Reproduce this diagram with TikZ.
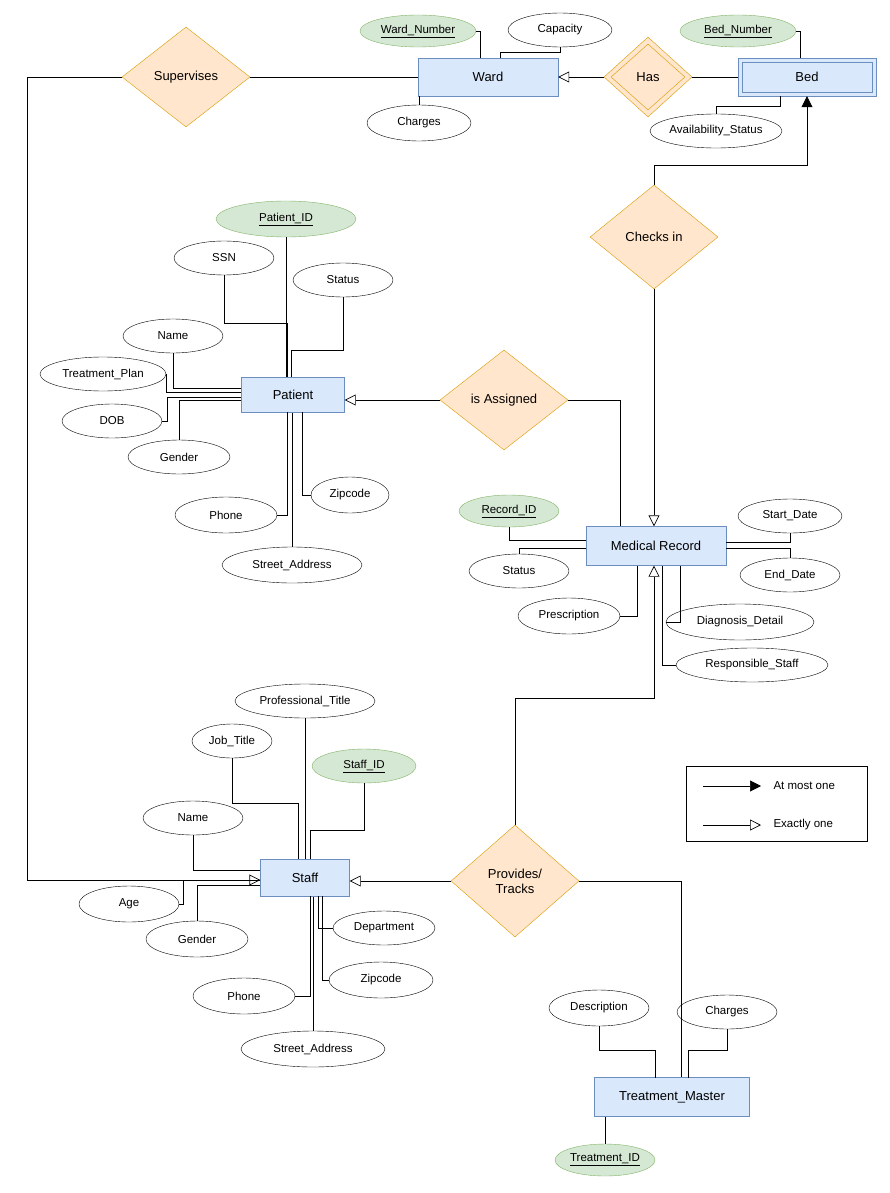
\documentclass[tikz,border=0pt]{standalone}
\usepackage{fontspec}
\setmainfont{Liberation Sans}
\usetikzlibrary{shapes.geometric,arrows.meta}
\definecolor{ebl}{HTML}{DAE8FC}\definecolor{ebd}{HTML}{6C8EBF}
\definecolor{ror}{HTML}{FFE6CC}\definecolor{rod}{HTML}{D79B00}
\definecolor{kgr}{HTML}{D5E8D4}\definecolor{kgd}{HTML}{82B366}
\begin{document}
\begin{tikzpicture}[x=1pt,y=-1pt,font=\fontsize{11.5}{13}\selectfont,
 ent/.style={draw=ebd,fill=ebl,minimum height=38,inner sep=2,font=\fontsize{13}{15}\selectfont},
 rel/.style={diamond,draw=rod,fill=ror,aspect=1.25,inner sep=0,font=\fontsize{13}{15}\selectfont,align=center},
 att/.style={ellipse,draw,fill=white,inner sep=0,minimum height=34},
 key/.style={att,draw=kgd,fill=kgr},
 ln/.style={draw,line width=0.7pt},
 ex/.style={-{Triangle[open,length=11pt,width=11pt]}},
 mo/.style={-{Triangle[length=11pt,width=11pt]}}]
\useasboundingbox (0,0) rectangle (889,1193);
% entities
\node[ent,minimum width=140] (ward) at (488,77) {Ward};
\node[ent,minimum width=138] (bed) at (807,77) {};
\draw[ebd] (742,62) rectangle (872,92);
\node[font=\fontsize{13}{15}\selectfont] at (807,77) {Bed};
\node[ent,minimum width=103,minimum height=35] (pat) at (293,395) {Patient};
\node[ent,minimum width=140,minimum height=39] (mr) at (656,546) {Medical Record};
\node[ent,minimum width=89,minimum height=37] (staff) at (305,878) {Staff};
\node[ent,minimum width=155,minimum height=39] (tm) at (672,1097) {Treatment\_Master};
% relations
\node[rel,minimum width=128,minimum height=100] (sup) at (186,77) {Supervises};
\node[rel,minimum width=88,minimum height=80] (has) at (648,77) {Has};
\node[diamond,draw=rod,minimum width=74,minimum height=66,inner sep=0] at (648,77) {};
\node[rel,minimum width=128,minimum height=104] (chk) at (654,237) {Checks in};
\node[rel,minimum width=128,minimum height=100] (asg) at (504,400) {is Assigned};
\node[rel,minimum width=128,minimum height=112] (prv) at (515,881) {Provides/\\Tracks};
% attributes
\node[key,minimum width=116,minimum height=32] (wn) at (418,31) {\underline{Ward\_Number}};
\node[att,minimum width=104] (cap) at (560,30) {Capacity};
\node[att,minimum width=104,minimum height=36] (wch) at (419,123) {Charges};
\node[key,minimum width=116,minimum height=32] (bn) at (738,31) {\underline{Bed\_Number}};
\node[att,minimum width=132] (avs) at (716,131) {Availability\_Status};
\node[key,minimum width=140,minimum height=36] (pid) at (286,219) {\underline{Patient\_ID}};
\node[att,minimum width=100] (ssn) at (224,258) {SSN};
\node[att,minimum width=100] (pst) at (343,280) {Status};
\node[att,minimum width=100] (pnm) at (173,336) {Name};
\node[att,minimum width=126] (tp) at (103,374) {Treatment\_Plan};
\node[att,minimum width=100] (dob) at (112,421) {DOB};
\node[att,minimum width=102] (pg) at (179,457) {Gender};
\node[att,minimum width=102,minimum height=36] (pph) at (226,515) {Phone};
\node[att,minimum width=78,minimum height=36] (pz) at (350,495) {Zipcode};
\node[att,minimum width=140,minimum height=36] (psa) at (292,565) {Street\_Address};
\node[key,minimum width=100,minimum height=32] (rid) at (509,511) {\underline{Record\_ID}};
\node[att,minimum width=100] (rst) at (519,571) {Status};
\node[att,minimum width=104] (sd) at (790,516) {Start\_Date};
\node[att,minimum width=100] (ed) at (790,575) {End\_Date};
\node[att,minimum width=102,minimum height=36] (pre) at (569,616) {Prescription};
\node[att,minimum width=148,minimum height=36] (dd) at (740,622) {Diagnosis\_Detail};
\node[att,minimum width=152] (rs) at (752,665) {Responsible\_Staff};
\node[att,minimum width=140] (pt) at (305,701) {Professional\_Title};
\node[att,minimum width=80] (jt) at (232,741) {Job\_Title};
\node[key,minimum width=104] (sid) at (364,766) {\underline{Staff\_ID}};
\node[att,minimum width=100] (snm) at (193,818) {Name};
\node[att,minimum width=100,minimum height=36] (age) at (129,904) {Age};
\node[att,minimum width=102,minimum height=36] (sg) at (197,939) {Gender};
\node[att,minimum width=102] (dep) at (384,928) {Department};
\node[att,minimum width=104,minimum height=36] (sz) at (381,980) {Zipcode};
\node[att,minimum width=102,minimum height=36] (sph) at (244,996) {Phone};
\node[att,minimum width=144,minimum height=36] (ssa) at (313,1049) {Street\_Address};
\node[att,minimum width=100,minimum height=36] (desc) at (599,1008) {Description};
\node[att,minimum width=100] (tch) at (727,1012) {Charges};
\node[key,minimum width=100,minimum height=32] (tid) at (605,1160) {\underline{Treatment\_ID}};
% relationship connectors
\coordinate (c1) at (27,77); \coordinate (c2) at (27,880);
\draw[ln] (sup.east) -- (ward.west);
\draw[ln,ex] (sup.west) -- (c1) -- (c2) -- (staff.west|-c2);
\draw[ln,ex] (has.west) -- (ward.east);
\draw[ln] (has.east) -- (bed.west);
\coordinate (c3) at (654,165);
\draw[ln,mo] (chk.north) -- (c3) -| (bed.south);
\draw[ln,ex] (chk.south) -- (mr.north-|chk.south);
\coordinate (c4) at (620,400);
\draw[ln,ex] (asg.west) -- (pat.east|-asg.west);
\draw[ln] (asg.east) -- (c4) -- (c4|-mr.north);
\draw[ln,ex] (prv.west) -- (staff.east|-prv.west);
\coordinate (c5) at (515,698); \coordinate (c6) at (654,698);
\draw[ln,ex] (prv.north) -- (c5) -- (c6) -- (c6|-mr.south);
\coordinate (c7) at (681,881);
\draw[ln] (prv.east) -- (c7) -- (c7|-tm.north);
% ward/bed attrs
\draw[ln] (wn.east) -| (480,58);
\draw[ln] (cap.south) |- (500,52) -- (500,58);
\draw[ln] (wch.north) -- (wch.north|-ward.south);
\draw[ln] (bn.east) -| (800,58);
\draw[ln] (avs.north) |- (780,106) -- (780,96);
% patient attrs
\draw[ln] (pid.south) -- (pid.south|-pat.north);
\draw[ln] (ssn.south) |- (287,323) -- (287,377);
\draw[ln] (pst.south) |- (291,350) -- (291,377);
\draw[ln] (pnm.south) |- (pat.west|-0,388);
\draw[ln] (tp.east) -| (166,392) -- (pat.west|-0,392);
\draw[ln] (dob.east) -| (167,397) -- (pat.west|-0,397);
\draw[ln] (pg.north) |- (pat.west|-0,400);
\draw[ln] (pph.east) -| (287,412);
\draw[ln] (pz.west) -| (302,412);
\draw[ln] (psa.north) -- (psa.north|-pat.south);
% medical record attrs
\draw[ln] (rid.south) |- (mr.west|-0,540);
\draw[ln] (rst.north) |- (mr.west|-0,548);
\draw[ln] (sd.south) |- (mr.east|-0,542);
\draw[ln] (ed.north) |- (mr.east|-0,548);
\draw[ln] (pre.east) -| (637,566);
\draw[ln] (dd.west) -| (680,566);
\draw[ln] (rs.west) -| (662,566);
% staff attrs
\draw[ln] (pt.south) -- (pt.south|-staff.north);
\draw[ln] (jt.south) |- (298,803) -- (298,859);
\draw[ln] (sid.south) |- (310,830) -- (310,859);
\draw[ln] (snm.south) |- (staff.west|-0,870);
\draw[ln] (age.east) -| (183,880) -- (staff.west|-0,880);
\draw[ln] (sg.north) |- (staff.west|-0,885);
\draw[ln] (dep.west) -| (318,896);
\draw[ln] (sz.west) -| (322,896);
\draw[ln] (sph.east) -| (310,896);
\draw[ln] (ssa.north) -- (ssa.north|-staff.south);
% treatment attrs
\draw[ln] (desc.south) |- (655,1050) -- (655,1078);
\draw[ln] (tch.south) |- (688,1050) -- (688,1078);
\draw[ln] (tid.north) -- (tid.north|-tm.south);
% legend
\node[draw,minimum width=181,minimum height=75,inner sep=0] (leg) at (777,804) {};
\coordinate (l1) at (703,786); \coordinate (l2) at (761,786);
\coordinate (l3) at (703,825); \coordinate (l4) at (761,825);
\draw[ln,mo] (l1) -- (l2);
\draw[ln,ex] (l3) -- (l4);
\node[anchor=west] (t1) at (770,786) {At most one};
\node[anchor=west] (t2) at (770,825) {Exactly one};
\end{tikzpicture}
\end{document}
